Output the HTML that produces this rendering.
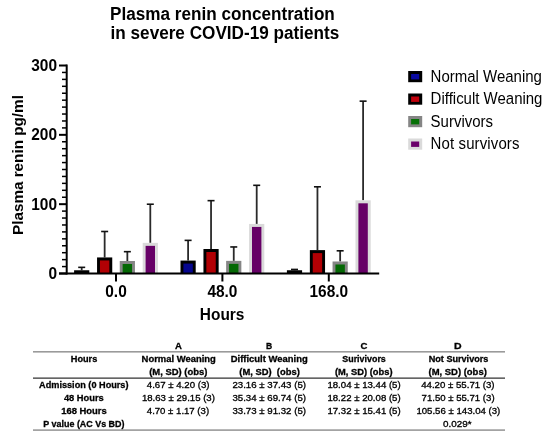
<!DOCTYPE html>
<html><head><meta charset="utf-8"><style>
html,body{margin:0;padding:0;background:#fff;}
body{width:550px;height:439px;overflow:hidden;position:relative;}
svg{position:absolute;left:0;top:0;}
text{font-family:"Liberation Sans",Arial,sans-serif;fill:#000;}
.tk{font-size:15.45px;font-weight:700;}
.yl{font-size:14.6px;font-weight:700;}
.ti{font-size:17.15px;font-weight:700;}
.lg{font-size:15px;font-weight:400;}
.tb{font-size:9.4px;font-weight:700;stroke:#000;stroke-width:0.3px;}
.tr{font-size:9.4px;font-weight:400;stroke:#000;stroke-width:0.32px;}
</style></head><body>
<svg width="550" height="439" viewBox="0 0 550 439">
<line x1="81.70" y1="270.26" x2="81.70" y2="267.35" stroke="#2a2a2a" stroke-width="1.8"/>
<line x1="78.20" y1="267.35" x2="85.20" y2="267.35" stroke="#111" stroke-width="1.6"/>
<rect x="74.10" y="270.26" width="15.2" height="3.24" fill="#000000"/>
<rect x="77.00" y="273.26" width="9.4" height="0.24" fill="#06068e"/>
<line x1="104.65" y1="257.44" x2="104.65" y2="231.49" stroke="#2a2a2a" stroke-width="1.8"/>
<line x1="101.15" y1="231.49" x2="108.15" y2="231.49" stroke="#111" stroke-width="1.6"/>
<rect x="97.05" y="257.44" width="15.2" height="16.06" fill="#000000"/>
<rect x="99.95" y="260.44" width="9.4" height="13.06" fill="#b20004"/>
<line x1="127.35" y1="260.99" x2="127.35" y2="251.67" stroke="#2a2a2a" stroke-width="1.8"/>
<line x1="123.85" y1="251.67" x2="130.85" y2="251.67" stroke="#111" stroke-width="1.6"/>
<rect x="119.75" y="260.99" width="15.2" height="12.51" fill="#858585"/>
<rect x="122.65" y="263.99" width="9.4" height="9.51" fill="#046804"/>
<line x1="150.30" y1="242.86" x2="150.30" y2="204.23" stroke="#2a2a2a" stroke-width="1.8"/>
<line x1="146.80" y1="204.23" x2="153.80" y2="204.23" stroke="#111" stroke-width="1.6"/>
<rect x="142.70" y="242.86" width="15.2" height="30.64" fill="#dadada"/>
<rect x="145.60" y="245.86" width="9.4" height="27.64" fill="#660066"/>
<line x1="188.10" y1="260.58" x2="188.10" y2="240.37" stroke="#2a2a2a" stroke-width="1.8"/>
<line x1="184.60" y1="240.37" x2="191.60" y2="240.37" stroke="#111" stroke-width="1.6"/>
<rect x="180.50" y="260.58" width="15.2" height="12.92" fill="#000000"/>
<rect x="183.40" y="263.58" width="9.4" height="9.92" fill="#06068e"/>
<line x1="211.05" y1="249.00" x2="211.05" y2="200.65" stroke="#2a2a2a" stroke-width="1.8"/>
<line x1="207.55" y1="200.65" x2="214.55" y2="200.65" stroke="#111" stroke-width="1.6"/>
<rect x="203.45" y="249.00" width="15.2" height="24.50" fill="#000000"/>
<rect x="206.35" y="252.00" width="9.4" height="21.50" fill="#b20004"/>
<line x1="233.75" y1="260.87" x2="233.75" y2="246.95" stroke="#2a2a2a" stroke-width="1.8"/>
<line x1="230.25" y1="246.95" x2="237.25" y2="246.95" stroke="#111" stroke-width="1.6"/>
<rect x="226.15" y="260.87" width="15.2" height="12.63" fill="#858585"/>
<rect x="229.05" y="263.87" width="9.4" height="9.63" fill="#046804"/>
<line x1="256.70" y1="223.93" x2="256.70" y2="185.31" stroke="#2a2a2a" stroke-width="1.8"/>
<line x1="253.20" y1="185.31" x2="260.20" y2="185.31" stroke="#111" stroke-width="1.6"/>
<rect x="249.10" y="223.93" width="15.2" height="49.57" fill="#dadada"/>
<rect x="252.00" y="226.93" width="9.4" height="46.57" fill="#660066"/>
<line x1="294.50" y1="270.24" x2="294.50" y2="269.43" stroke="#2a2a2a" stroke-width="1.8"/>
<line x1="291.00" y1="269.43" x2="298.00" y2="269.43" stroke="#111" stroke-width="1.6"/>
<rect x="286.90" y="270.24" width="15.2" height="3.26" fill="#000000"/>
<rect x="289.80" y="273.24" width="9.4" height="0.26" fill="#06068e"/>
<line x1="317.45" y1="250.11" x2="317.45" y2="186.80" stroke="#2a2a2a" stroke-width="1.8"/>
<line x1="313.95" y1="186.80" x2="320.95" y2="186.80" stroke="#111" stroke-width="1.6"/>
<rect x="309.85" y="250.11" width="15.2" height="23.39" fill="#000000"/>
<rect x="312.75" y="253.11" width="9.4" height="20.39" fill="#b20004"/>
<line x1="340.15" y1="261.49" x2="340.15" y2="250.81" stroke="#2a2a2a" stroke-width="1.8"/>
<line x1="336.65" y1="250.81" x2="343.65" y2="250.81" stroke="#111" stroke-width="1.6"/>
<rect x="332.55" y="261.49" width="15.2" height="12.01" fill="#858585"/>
<rect x="335.45" y="264.49" width="9.4" height="9.01" fill="#046804"/>
<line x1="363.10" y1="200.32" x2="363.10" y2="101.15" stroke="#2a2a2a" stroke-width="1.8"/>
<line x1="359.60" y1="101.15" x2="366.60" y2="101.15" stroke="#111" stroke-width="1.6"/>
<rect x="355.50" y="200.32" width="15.2" height="73.18" fill="#dadada"/>
<rect x="358.40" y="203.32" width="9.4" height="70.18" fill="#660066"/>
<line x1="66.7" y1="64.51" x2="66.7" y2="274.50" stroke="#000" stroke-width="2"/>
<line x1="59" y1="273.50" x2="66.7" y2="273.50" stroke="#000" stroke-width="2"/>
<line x1="62" y1="266.57" x2="66.7" y2="266.57" stroke="#000" stroke-width="1.5"/>
<line x1="62" y1="259.63" x2="66.7" y2="259.63" stroke="#000" stroke-width="1.5"/>
<line x1="62" y1="252.70" x2="66.7" y2="252.70" stroke="#000" stroke-width="1.5"/>
<line x1="62" y1="245.77" x2="66.7" y2="245.77" stroke="#000" stroke-width="1.5"/>
<line x1="62" y1="238.84" x2="66.7" y2="238.84" stroke="#000" stroke-width="1.5"/>
<line x1="62" y1="231.90" x2="66.7" y2="231.90" stroke="#000" stroke-width="1.5"/>
<line x1="62" y1="224.97" x2="66.7" y2="224.97" stroke="#000" stroke-width="1.5"/>
<line x1="62" y1="218.04" x2="66.7" y2="218.04" stroke="#000" stroke-width="1.5"/>
<line x1="62" y1="211.10" x2="66.7" y2="211.10" stroke="#000" stroke-width="1.5"/>
<line x1="59" y1="204.17" x2="66.7" y2="204.17" stroke="#000" stroke-width="2"/>
<line x1="62" y1="197.24" x2="66.7" y2="197.24" stroke="#000" stroke-width="1.5"/>
<line x1="62" y1="190.30" x2="66.7" y2="190.30" stroke="#000" stroke-width="1.5"/>
<line x1="62" y1="183.37" x2="66.7" y2="183.37" stroke="#000" stroke-width="1.5"/>
<line x1="62" y1="176.44" x2="66.7" y2="176.44" stroke="#000" stroke-width="1.5"/>
<line x1="62" y1="169.50" x2="66.7" y2="169.50" stroke="#000" stroke-width="1.5"/>
<line x1="62" y1="162.57" x2="66.7" y2="162.57" stroke="#000" stroke-width="1.5"/>
<line x1="62" y1="155.64" x2="66.7" y2="155.64" stroke="#000" stroke-width="1.5"/>
<line x1="62" y1="148.71" x2="66.7" y2="148.71" stroke="#000" stroke-width="1.5"/>
<line x1="62" y1="141.77" x2="66.7" y2="141.77" stroke="#000" stroke-width="1.5"/>
<line x1="59" y1="134.84" x2="66.7" y2="134.84" stroke="#000" stroke-width="2"/>
<line x1="62" y1="127.91" x2="66.7" y2="127.91" stroke="#000" stroke-width="1.5"/>
<line x1="62" y1="120.97" x2="66.7" y2="120.97" stroke="#000" stroke-width="1.5"/>
<line x1="62" y1="114.04" x2="66.7" y2="114.04" stroke="#000" stroke-width="1.5"/>
<line x1="62" y1="107.11" x2="66.7" y2="107.11" stroke="#000" stroke-width="1.5"/>
<line x1="62" y1="100.17" x2="66.7" y2="100.17" stroke="#000" stroke-width="1.5"/>
<line x1="62" y1="93.24" x2="66.7" y2="93.24" stroke="#000" stroke-width="1.5"/>
<line x1="62" y1="86.31" x2="66.7" y2="86.31" stroke="#000" stroke-width="1.5"/>
<line x1="62" y1="79.38" x2="66.7" y2="79.38" stroke="#000" stroke-width="1.5"/>
<line x1="62" y1="72.44" x2="66.7" y2="72.44" stroke="#000" stroke-width="1.5"/>
<line x1="59" y1="65.51" x2="66.7" y2="65.51" stroke="#000" stroke-width="2"/>
<line x1="59" y1="273.50" x2="379.2" y2="273.50" stroke="#000" stroke-width="2"/>
<line x1="116.0" y1="273.50" x2="116.0" y2="281.50" stroke="#000" stroke-width="2"/>
<line x1="222.4" y1="273.50" x2="222.4" y2="281.50" stroke="#000" stroke-width="2"/>
<line x1="328.8" y1="273.50" x2="328.8" y2="281.50" stroke="#000" stroke-width="2"/>
<text transform="translate(57.00,279.10) scale(1.0,1.08)" text-anchor="end" class="tk">0</text>
<text transform="translate(57.00,209.77) scale(1.0,1.08)" text-anchor="end" class="tk">100</text>
<text transform="translate(57.00,140.44) scale(1.0,1.08)" text-anchor="end" class="tk">200</text>
<text transform="translate(57.00,71.11) scale(1.0,1.08)" text-anchor="end" class="tk">300</text>
<text transform="translate(116.00,296.90) scale(1.0,1.08)" text-anchor="middle" class="tk">0.0</text>
<text transform="translate(222.40,296.90) scale(1.0,1.08)" text-anchor="middle" class="tk">48.0</text>
<text transform="translate(328.80,296.90) scale(1.0,1.08)" text-anchor="middle" class="tk">168.0</text>
<text transform="translate(222.10,319.60) scale(1.0,1.08)" text-anchor="middle" class="tk">Hours</text>
<text transform="translate(23.0,165.05) rotate(-90) scale(1.046,1)" text-anchor="middle" class="yl">Plasma renin pg/ml</text>
<text transform="translate(222.40,20.00) scale(1.0,1.05)" text-anchor="middle" class="ti">Plasma renin concentration</text>
<text transform="translate(224.90,39.00) scale(1.0,1.05)" text-anchor="middle" class="ti">in severe COVID-19 patients</text>
<rect x="408.2" y="71.00" width="14" height="11.2" fill="#000000"/>
<rect x="411.1" y="74.00" width="8.1" height="5.4" fill="#0a0aa0"/>
<text transform="translate(430.60,81.60) scale(1.0,1.05)" text-anchor="start" class="lg">Normal Weaning</text>
<rect x="408.2" y="93.50" width="14" height="11.2" fill="#000000"/>
<rect x="411.1" y="96.50" width="8.1" height="5.4" fill="#c0000c"/>
<text transform="translate(430.60,104.10) scale(1.0,1.05)" text-anchor="start" class="lg">Difficult Weaning</text>
<rect x="408.2" y="116.00" width="14" height="11.2" fill="#858585"/>
<rect x="411.1" y="119.00" width="8.1" height="5.4" fill="#067006"/>
<text transform="translate(430.60,126.60) scale(1.0,1.05)" text-anchor="start" class="lg">Survivors</text>
<rect x="408.2" y="138.50" width="14" height="11.2" fill="#dadada"/>
<rect x="411.1" y="141.50" width="8.1" height="5.4" fill="#6a006a"/>
<text transform="translate(430.60,149.10) scale(1.0,1.05)" text-anchor="start" class="lg" letter-spacing="0.12">Not survivors</text>
<rect x="33" y="351" width="472" height="1.6" fill="#9a9a9a"/>
<rect x="33" y="377.4" width="472" height="1.5" fill="#555"/>
<rect x="33" y="429.3" width="472" height="1.6" fill="#9a9a9a"/>
<text id="t0" x="178.35" y="348.8" text-anchor="middle" class="tb" textLength="6.90" lengthAdjust="spacingAndGlyphs">A</text>
<text id="t1" x="269.00" y="348.8" text-anchor="middle" class="tb" textLength="6.20" lengthAdjust="spacingAndGlyphs">B</text>
<text id="t2" x="364.05" y="348.8" text-anchor="middle" class="tb" textLength="6.90" lengthAdjust="spacingAndGlyphs">C</text>
<text id="t3" x="457.70" y="348.8" text-anchor="middle" class="tb" textLength="7.60" lengthAdjust="spacingAndGlyphs">D</text>
<text id="t4" x="84.05" y="362.3" text-anchor="middle" class="tb" textLength="26.50" lengthAdjust="spacingAndGlyphs">Hours</text>
<text id="t5" x="178.70" y="362.3" text-anchor="middle" class="tb" textLength="74.20" lengthAdjust="spacingAndGlyphs">Normal Weaning</text>
<text id="t6" x="269.20" y="362.3" text-anchor="middle" class="tb" textLength="77.00" lengthAdjust="spacingAndGlyphs">Difficult Weaning</text>
<text id="t7" x="364.05" y="362.3" text-anchor="middle" class="tb" textLength="43.50" lengthAdjust="spacingAndGlyphs">Surivivors</text>
<text id="t8" x="458.55" y="362.3" text-anchor="middle" class="tb" textLength="59.70" lengthAdjust="spacingAndGlyphs">Not Survivors</text>
<text id="t9" x="178.35" y="374.6" text-anchor="middle" class="tb" textLength="58.30" lengthAdjust="spacingAndGlyphs">(M, SD) (obs)</text>
<text id="t10" x="269.55" y="374.6" text-anchor="middle" class="tb" textLength="60.50" lengthAdjust="spacingAndGlyphs">(M, SD)  (obs)</text>
<text id="t11" x="363.75" y="374.6" text-anchor="middle" class="tb" textLength="57.50" lengthAdjust="spacingAndGlyphs">(M, SD) (obs)</text>
<text id="t12" x="457.65" y="374.6" text-anchor="middle" class="tb" textLength="58.30" lengthAdjust="spacingAndGlyphs">(M, SD) (obs)</text>
<text id="t13" x="83.80" y="388.1" text-anchor="middle" class="tb" textLength="89.40" lengthAdjust="spacingAndGlyphs">Admission (0 Hours)</text>
<text id="t14" x="178.15" y="388.1" text-anchor="middle" class="tr" textLength="62.70" lengthAdjust="spacingAndGlyphs">4.67 ± 4.20 (3)</text>
<text id="t15" x="269.20" y="388.1" text-anchor="middle" class="tr" textLength="73.60" lengthAdjust="spacingAndGlyphs">23.16 ± 37.43 (5)</text>
<text id="t16" x="364.05" y="388.1" text-anchor="middle" class="tr" textLength="73.30" lengthAdjust="spacingAndGlyphs">18.04 ± 13.44 (5)</text>
<text id="t17" x="457.90" y="388.1" text-anchor="middle" class="tr" textLength="73.40" lengthAdjust="spacingAndGlyphs">44.20 ± 55.71 (3)</text>
<text id="t18" x="83.80" y="400.9" text-anchor="middle" class="tb" textLength="39.80" lengthAdjust="spacingAndGlyphs">48 Hours</text>
<text id="t19" x="178.40" y="400.9" text-anchor="middle" class="tr" textLength="73.00" lengthAdjust="spacingAndGlyphs">18.63 ± 29.15 (3)</text>
<text id="t20" x="269.20" y="400.9" text-anchor="middle" class="tr" textLength="73.60" lengthAdjust="spacingAndGlyphs">35.34 ± 69.74 (5)</text>
<text id="t21" x="364.05" y="400.9" text-anchor="middle" class="tr" textLength="73.30" lengthAdjust="spacingAndGlyphs">18.22 ± 20.08 (5)</text>
<text id="t22" x="458.10" y="400.9" text-anchor="middle" class="tr" textLength="73.00" lengthAdjust="spacingAndGlyphs">71.50 ± 55.71 (3)</text>
<text id="t23" x="84.00" y="413.7" text-anchor="middle" class="tb" textLength="45.60" lengthAdjust="spacingAndGlyphs">168 Hours</text>
<text id="t24" x="177.95" y="413.7" text-anchor="middle" class="tr" textLength="62.30" lengthAdjust="spacingAndGlyphs">4.70 ± 1.17 (3)</text>
<text id="t25" x="269.20" y="413.7" text-anchor="middle" class="tr" textLength="73.60" lengthAdjust="spacingAndGlyphs">33.73 ± 91.32 (5)</text>
<text id="t26" x="364.05" y="413.7" text-anchor="middle" class="tr" textLength="73.30" lengthAdjust="spacingAndGlyphs">17.32 ± 15.41 (5)</text>
<text id="t27" x="458.35" y="413.7" text-anchor="middle" class="tr" textLength="83.90" lengthAdjust="spacingAndGlyphs">105.56 ± 143.04 (3)</text>
<text id="t28" x="83.90" y="426.6" text-anchor="middle" class="tb" textLength="81.20" lengthAdjust="spacingAndGlyphs">P value (AC Vs BD)</text>
<text id="t29" x="457.25" y="426.6" text-anchor="middle" class="tr" textLength="28.50" lengthAdjust="spacingAndGlyphs">0.029*</text>
</svg>
</body></html>
